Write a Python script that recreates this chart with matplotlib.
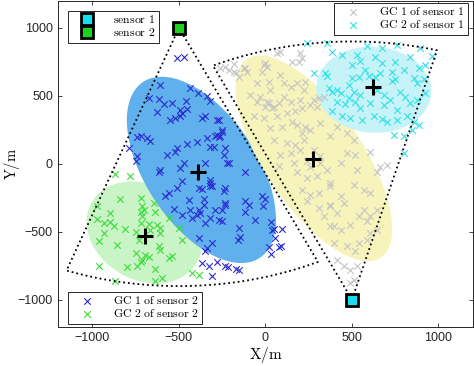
import matplotlib
matplotlib.use('Agg')
import matplotlib.pyplot as plt
import numpy as np
from matplotlib.patches import Ellipse

plt.rcParams['mathtext.fontset'] = 'cm'
plt.rcParams['font.family'] = ['Liberation Sans', 'DejaVu Sans']

# sensors
sensor1 = (500, -1000)
sensor2 = (-500, 1000)

# sector of sensor 1 / sensor 2: radius and angle range (deg)
sector1 = (1900, 75, 115)
sector2 = (1900, -110, -65)

# GC 1 of sensor 2 (blue)
blue_pts = [
    (-510, 776), (-472, 784), (-607, 581), (-434, 556), (-389, 524), (-337, 500), (-318, 465),
    (-674, 487), (-617, 476), (-588, 439), (-539, 446), (-462, 465), (-491, 397), (-453, 402),
    (-482, 373), (-626, 378), (-549, 323), (-520, 336), (-491, 348), (-366, 336), (-347, 353),
    (-270, 323), (-722, 206), (-684, 189), (-665, 171), (-742, 196), (-453, 147), (-395, 157),
    (-337, 189), (-289, 206), (-270, 196), (-251, 237), (-318, 127), (-231, 115), (-568, 66),
    (-520, 90), (-510, 115), (-742, 59), (-790, 115), (-751, 22), (-607, -44), (-617, -57),
    (-491, -32), (-472, 5), (-347, 5), (-482, -130), (-510, -179), (-385, -179), (-366, -186),
    (-318, -142), (-308, -167), (-241, -203), (-231, -179), (-559, -215), (-578, -235),
    (-443, -265), (-357, -259), (-357, -301), (-385, -338), (-530, -333), (-434, -338),
    (-376, -362), (-395, -375), (-289, -338), (-251, -338), (-231, -301), (-482, -375),
    (-270, -412), (-251, -419), (-318, -399), (-424, -399), (-347, -436), (-385, -546),
    (-308, -583), (-337, -620), (-347, -645), (-366, -730), (-328, -750), (-279, -725),
    (-231, -755), (-308, -823), (-116, -64), (-231, -289), (-116, -277), (-97, -301),
    (-116, -358), (-19, -235), (0, -259), (-15, -309), (-58, -412), (-154, -473), (-145, -539),
    (-158, -559), (35, -431), (48, -480), (39, -490), (97, -480), (54, -546), (19, -612),
    (77, -612), (92, -603), (35, -662), (-216, -760), (-173, -774), (-154, -779),
    (-279, 213), (-260, 201), (-251, 250), (-299, 127), (-241, 66), (-222, 5), (-279, 323),
    (-212, 5), (-318, -118), (-318, -167),
]

# GC 2 of sensor 2 (green)
green_pts = [
    (-867, -74), (-780, -93), (-838, -259), (-722, -252), (-713, -313), (-973, -313),
    (-896, -362), (-722, -357), (-713, -387), (-636, -357), (-973, -406), (-935, -436),
    (-896, -431), (-877, -456), (-722, -436), (-674, -441), (-626, -448), (-809, -480),
    (-935, -509), (-607, -509), (-751, -505), (-963, -571), (-857, -595), (-617, -608),
    (-607, -632), (-751, -656), (-694, -669), (-674, -686), (-713, -706), (-722, -725),
    (-742, -750), (-963, -755), (-799, -760), (-636, -774), (-867, -865), (-636, -865),
    (-597, -840), (-703, -343), (-645, -289), (-665, -485), (-607, -473), (-732, -559),
    (-559, -399), (-501, -473), (-482, -559), (-559, -693), (-539, -681), (-424, -804),
    (-385, -816),
]

# GC 1 of sensor 1 (gray)
gray_pts = [
    (-260, 703), (-231, 715), (-212, 691), (-183, 735), (-173, 667), (-154, 642), (-116, 703),
    (-106, 679), (0, 740), (10, 715), (68, 818), (87, 826), (193, 752), (212, 776), (202, 814),
    (-48, 593), (19, 605), (87, 654), (29, 544), (145, 568), (231, 605), (222, 544), (-87, 507),
    (-29, 495), (-48, 458), (19, 446), (0, 421), (39, 409), (77, 446), (145, 458), (212, 409),
    (260, 434), (299, 421), (-68, 348), (-10, 336), (68, 348), (125, 373), (173, 385),
    (29, 262), (96, 274), (154, 311), (183, 287), (231, 274), (260, 250), (212, 226),
    (48, 176), (125, 152), (173, 140), (222, 176), (87, 66), (145, 78), (202, 103), (279, 103),
    (77, -15), (164, 5), (241, 17), (-125, 703), (-183, 679), (-10, 728), (-19, 679),
    (106, 593), (183, 593), (154, 752), (10, 458), (48, 421), (106, 495), (202, 470),
    (308, 483), (337, 495), (318, 299), (414, 274), (376, 201), (472, 225), (511, 176),
    (318, 54), (472, 78), (520, 66), (434, 5), (530, -44), (607, 90), (665, -20), (703, -7),
    (645, -57), (279, 470), (212, -191), (260, -228), (308, -216), (376, -167), (434, -240),
    (511, -154), (568, -191), (607, -216), (308, -326), (376, -301), (453, -289), (568, -338),
    (607, -387), (539, -387), (645, -338), (376, -461), (434, -485), (491, -448), (588, -424),
    (607, -509), (645, -485), (395, -583), (472, -608), (539, -583), (520, -645), (588, -559),
    (414, -706), (453, -755), (491, -779), (530, -755), (511, -853), (491, -877), (183, -57),
    (260, -20), (318, 5), (356, -44), (241, -105), (299, -93), (376, -142), (241, -277),
    (376, -313), (337, -387), (414, -362), (395, -461),
]

# GC 2 of sensor 1 (cyan)
cyan_pts = [
    (588, 867), (675, 850), (761, 875), (896, 850), (963, 794), (385, 825), (443, 801),
    (530, 801), (636, 789), (675, 740), (751, 752), (838, 789), (501, 728), (549, 759),
    (578, 691), (665, 667), (732, 679), (799, 691), (886, 703), (925, 728), (279, 667),
    (347, 667), (356, 647), (501, 630), (539, 637), (597, 647), (636, 642), (751, 623),
    (732, 606), (857, 630), (877, 598), (915, 623), (366, 556), (385, 531), (414, 544),
    (434, 520), (482, 581), (511, 531), (549, 507), (482, 483), (645, 544), (684, 507),
    (722, 470), (780, 531), (809, 495), (838, 446), (877, 470), (925, 520), (414, 458),
    (462, 441), (520, 458), (549, 409), (607, 446), (684, 434), (761, 397), (385, 385),
    (443, 353), (491, 336), (559, 323), (626, 348), (675, 329), (703, 311), (761, 323),
    (819, 348), (857, 311), (886, 287), (848, 250), (742, 213), (799, 201), (241, 887),
    (356, 887), (799, 78),
]

# cluster centres
centers = [(-390, -60), (-695, -534), (275, 34), (622, 564)]

# cluster ellipses: centre, width, height, angle, colour
ellipses = [
    ((-700, -505), 790, 620, -60, '#c9f4c6'),
    ((-370, -45), 1470, 680, -66, '#5fb0ec'),
    ((280, 40), 1660, 600, -64, '#f7f4bb'),
    ((626, 545), 670, 630, -20, '#c6f3f7'),
]

fig = plt.figure(figsize=(4.74, 3.66), dpi=100)
ax = fig.add_axes([0.122, 0.107, 0.876, 0.891])

for (c, w, h, ang, col) in ellipses:
    ax.add_patch(Ellipse(c, w, h, angle=ang, facecolor=col, edgecolor='none', zorder=1))

ms = 22
gx, gy = zip(*gray_pts)
cx, cy = zip(*cyan_pts)
bx, by = zip(*blue_pts)
grx, gry = zip(*green_pts)
h_gray = ax.scatter(gx, gy, marker='x', s=ms, c='#c4c4c4', linewidths=0.8, zorder=2)
h_cyan = ax.scatter(cx, cy, marker='x', s=ms, c='#2fe0e6', linewidths=0.8, zorder=2)
h_blue = ax.scatter(bx, by, marker='x', s=ms, c='#2b2bd0', linewidths=0.8, zorder=2)
h_green = ax.scatter(grx, gry, marker='x', s=ms, c='#3bdc3b', linewidths=0.8, zorder=2)


def sector(ax, origin, r, a0, a1):
    t = np.radians(np.linspace(a0, a1, 60))
    xs = np.concatenate([[origin[0]], origin[0] + r * np.cos(t), [origin[0]]])
    ys = np.concatenate([[origin[1]], origin[1] + r * np.sin(t), [origin[1]]])
    ax.plot(xs, ys, ':', color='black', lw=1.3, zorder=3)


sector(ax, sensor1, *sector1)
sector(ax, sensor2, *sector2)

for c in centers:
    ax.plot(c[0], c[1], '+', color='black', ms=11, mew=2.2, zorder=4)

h_s1 = ax.plot(*sensor1, 's', ms=9, mfc='#19dcef', mec='black', mew=2, zorder=5)[0]
h_s2 = ax.plot(*sensor2, 's', ms=9, mfc='#1fd11f', mec='black', mew=2, zorder=5)[0]

ax.set_xlim(-1200, 1200)
ax.set_ylim(-1200, 1200)
ticks = [-1000, -500, 0, 500, 1000]
ax.set_xticks(ticks)
ax.set_yticks(ticks)
ax.tick_params(direction='in', top=True, right=True, length=3, width=0.6,
               colors='#262626', labelsize=9)
for sp in ax.spines.values():
    sp.set_color('#262626')
    sp.set_linewidth(0.7)

ax.set_xlabel(r'$\mathrm{X/m}$', fontsize=11, labelpad=1)
ax.set_ylabel(r'$\mathrm{Y/m}$', fontsize=10.5)
ax.yaxis.set_label_coords(-0.087, 0.5)

leg_kw = dict(fontsize=8.5, fancybox=False, framealpha=1, edgecolor='#262626',
              handlelength=2.6, handletextpad=0.9, borderaxespad=0, borderpad=0.3,
              labelspacing=0.1)


def mt(s):
    return r'$\mathrm{' + s.replace(' ', r'\ ') + '}$'


leg1 = ax.legend([h_s1, h_s2], [mt('sensor 1'), mt('sensor 2')], loc='upper left',
                 bbox_to_anchor=(0.024, 0.97), **leg_kw)
ax.add_artist(leg1)
leg2 = ax.legend([h_gray, h_cyan], [mt('GC 1 of sensor 1'), mt('GC 2 of sensor 1')],
                 loc='upper right', bbox_to_anchor=(0.988, 0.994), **leg_kw)
ax.add_artist(leg2)
leg3 = ax.legend([h_blue, h_green], [mt('GC 1 of sensor 2'), mt('GC 2 of sensor 2')],
                 loc='lower left', bbox_to_anchor=(0.024, 0.009), **leg_kw)
for lg in (leg1, leg2, leg3):
    lg.get_frame().set_linewidth(0.7)

fig.savefig('out.png', dpi=100)
